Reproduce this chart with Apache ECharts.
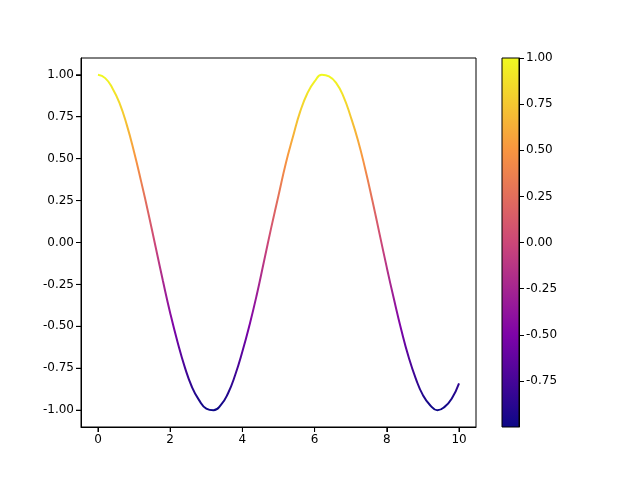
<!DOCTYPE html>
<html><head><meta charset="utf-8">
<script src="https://cdn.jsdelivr.net/npm/echarts@6/dist/echarts.min.js"></script>
<style>html,body{margin:0;background:#fff}#c{width:640px;height:480px}</style>
</head><body><div id="c"></div>
<script>
const xValues=[0,0.2,0.4,0.6,0.8,1.0,1.2,1.4,1.6,1.8,2.0,2.2,2.4,2.6,2.8,3.0,3.2,3.4,3.6,3.8,4.0,4.2,4.4,4.6,4.8,5.0,5.2,5.4,5.6,5.8,6.0,6.2,6.4,6.6,6.8,7.0,7.2,7.4,7.6,7.8,8.0,8.2,8.4,8.6,8.8,9.0,9.2,9.4,9.6,9.8,10.0];
const yValues=[1.00,0.98,0.92,0.83,0.70,0.54,0.36,0.17,-0.03,-0.23,-0.42,-0.59,-0.74,-0.86,-0.94,-0.99,-1.00,-0.97,-0.90,-0.79,-0.65,-0.49,-0.31,-0.11,0.09,0.28,0.47,0.63,0.78,0.89,0.96,1.00,0.99,0.95,0.87,0.75,0.61,0.44,0.25,0.05,-0.15,-0.34,-0.52,-0.68,-0.81,-0.91,-0.97,-1.00,-0.98,-0.93,-0.84];
const xTicks=[0,2,4,6,8,10];
const yTicks=[-1,-0.75,-0.5,-0.25,0,0.25,0.5,0.75,1];
const cbTicks=[-0.75,-0.5,-0.25,0,0.25,0.5,0.75,1];
const plasma=['#0d0887','#7e03a8','#cc4778','#f89540','#f0f921'];
const font={fontFamily:'DejaVu Sans',fontSize:12,color:'#000'};
const XMIN=-0.47,YMIN=-1.1;
const tick=v=>({show:true,inside:false,customValues:v,length:5,lineStyle:{color:'#000',width:1}});
const ch=echarts.init(document.getElementById('c'));
const cbRect={type:'rect',left:502,top:58,shape:{width:17,height:369},z:-1,
    style:{fill:new echarts.graphic.LinearGradient(0,1,0,0,plasma.map((c,i)=>({offset:i/4,color:c})))}};
ch.setOption({
  animation:false,
  grid:[{left:81,right:164,top:58,bottom:53,show:true,borderColor:'#000',borderWidth:1},
        {left:502,width:17,top:58,bottom:53,show:true,borderColor:'#000',borderWidth:1}],
  xAxis:[{type:'value',gridIndex:0,min:XMIN,max:10.47,splitLine:{show:false},
    axisLine:{onZero:false,lineStyle:{color:'#000'}},axisTick:tick(xTicks),
    axisLabel:Object.assign({customValues:xTicks,margin:7},font)},
    {type:'value',gridIndex:1,min:0,max:1,show:false}],
  yAxis:[{type:'value',gridIndex:0,min:YMIN,max:1.1,splitLine:{show:false},
    axisLine:{show:true,onZero:false,lineStyle:{color:'#000'}},axisTick:tick(yTicks),
    axisLabel:Object.assign({customValues:yTicks,formatter:v=>v.toFixed(2),margin:7},font)},
    {type:'value',gridIndex:1,position:'right',min:-0.9999,max:1,splitLine:{show:false},
    axisLine:{show:true,onZero:false,lineStyle:{color:'#000'}},axisTick:tick(cbTicks),
    axisLabel:Object.assign({customValues:cbTicks,formatter:v=>v.toFixed(2),margin:7},font)}],
  visualMap:{show:false,type:'continuous',min:-1,max:1,dimension:1,seriesIndex:0,inRange:{color:plasma}},
  graphic:[cbRect],
  series:[{type:'line',xAxisIndex:0,yAxisIndex:0,smooth:0.5,showSymbol:false,lineStyle:{width:2},
    data:xValues.map((x,i)=>[x,yValues[i]])}]
});
const g=[cbRect];
xTicks.forEach(v=>{const p=ch.convertToPixel({xAxisIndex:0,yAxisIndex:0},[v,YMIN]);
  g.push({type:'line',shape:{x1:p[0],y1:p[1],x2:p[0],y2:p[1]+5},style:{stroke:'#000',lineWidth:1},z:100});});
yTicks.forEach(v=>{const p=ch.convertToPixel({xAxisIndex:0,yAxisIndex:0},[XMIN,v]);
  g.push({type:'line',shape:{x1:p[0],y1:p[1],x2:p[0]-5,y2:p[1]},style:{stroke:'#000',lineWidth:1},z:100});});
ch.setOption({graphic:g},{replaceMerge:['graphic']});
</script></body></html>
